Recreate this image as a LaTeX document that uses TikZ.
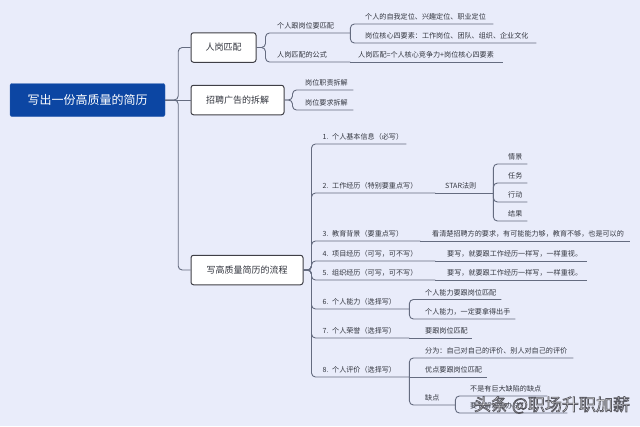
\documentclass[tikz,border=0pt]{standalone}
\usepackage{fontspec}
\setmainfont{Noto Sans CJK SC}
\definecolor{bg}{HTML}{E9ECFA}
\definecolor{ln}{HTML}{656C80}
\definecolor{bd}{HTML}{3F3F46}
\definecolor{rootc}{HTML}{0C46A3}
\definecolor{tx}{HTML}{33363F}
\tikzset{
  conn/.style={draw=ln, line width=0.9pt, rounded corners=4pt},
  rootbox/.style={fill=rootc, draw=rootc!85!white, rounded corners=2pt, text=white,
    font=\fontsize{12}{14}\selectfont, minimum width=155pt, minimum height=33pt, inner sep=0pt},
  topic/.style={fill=white, draw=bd, line width=1pt, rounded corners=2.5pt, text=tx,
    font=\fontsize{9}{11}\selectfont, minimum height=29.5pt, inner sep=0pt},
  leaf/.style 2 args={anchor=south west, inner xsep=0pt, inner ysep=2.5pt, align=left,
    text=tx, font=\fontsize{7.1}{8}\selectfont, text height=6pt, text depth=1.5pt,
    text width=#1, execute at begin node={\hspace*{#2}}},
  wmark/.style={text=white, font=\fontsize{17}{19}\selectfont, inner sep=0pt}
}
\begin{document}
\begin{tikzpicture}[x=1pt,y=-1pt]
\useasboundingbox[fill=bg] (0,0) rectangle (640,426);

% root and topics
\node[rootbox] (root) at (87.5,100) {写出一份高质量的简历};
\node[topic, minimum width=65pt] (t1) at (223.5,47.5) {人岗匹配};
\node[topic, minimum width=93pt] (t2) at (237.5,100) {招聘广告的拆解};
\node[topic, minimum width=112pt] (t3) at (247,270) {写高质量简历的流程};

% topic 1 children
\node[leaf={85pt}{12pt}] (a1) at (265,33) {个人跟岗位要匹配};
\node[leaf={85pt}{12pt}] (a2) at (265,62) {人岗匹配的公式};
\node[leaf={143pt}{15pt}] (a11) at (350,24) {个人的自我定位、兴趣定位、职业定位};
\node[leaf={186pt}{15pt}] (a12) at (350,43) {岗位核心四要素：工作岗位、团队、组织、企业文化};
\node[leaf={153pt}{8pt}] (a21) at (350,62) {人岗匹配=个人核心竞争力+岗位核心四要素};

% topic 2 children
\node[leaf={61pt}{13pt}] (b1) at (292,90) {岗位职责拆解};
\node[leaf={61pt}{13pt}] (b2) at (292,110) {岗位要求拆解};

% topic 3 children
\node[leaf={95pt}{11.5pt}] (c1) at (311,144) {1. 个人基本信息（必写）};
\node[leaf={124pt}{11.5pt}] (c2) at (311,193) {2. 工作经历（特别要重点写）};
\node[leaf={58pt}{10pt}] (star) at (435,193) {STAR法则};
\node[leaf={34pt}{15pt}] (s1) at (493,164) {情景};
\node[leaf={34pt}{15pt}] (s2) at (493,183) {任务};
\node[leaf={34pt}{15pt}] (s3) at (493,202) {行动};
\node[leaf={34pt}{15pt}] (s4) at (493,221) {结果};
\node[leaf={109pt}{11.5pt}] (c3) at (311,241) {3. 教育背景（要重点写）};
\node[leaf={210pt}{12pt}] (c31) at (420,241) {看清楚招聘方的要求，有可能能力够，教育不够，也是可以的};
\node[leaf={124pt}{11.5pt}] (c4) at (311,261) {4. 项目经历（可写，可不写）};
\node[leaf={152pt}{12pt}] (c41) at (435,261) {要写，就要跟工作经历一样写，一样重视。};
\node[leaf={124pt}{11.5pt}] (c5) at (311,280) {5. 组织经历（可写，可不写）};
\node[leaf={152pt}{12pt}] (c51) at (435,280) {要写，就要跟工作经历一样写，一样重视。};
\node[leaf={98pt}{11.5pt}] (c6) at (311,309) {6. 个人能力（选择写）};
\node[leaf={92pt}{16pt}] (c61) at (409,299.5) {个人能力要跟岗位匹配};
\node[leaf={106pt}{16pt}] (c62) at (409,319) {个人能力，一定要拿得出手};
\node[leaf={98pt}{11.5pt}] (c7) at (311,338) {7. 个人荣誉（选择写）};
\node[leaf={63pt}{16pt}] (c71) at (409,338) {要跟岗位匹配};
\node[leaf={98pt}{11.5pt}] (c8) at (311,377) {8. 个人评价（选择写）};
\node[leaf={164pt}{16pt}] (c81) at (409,358) {分为：自己对自己的评价、别人对自己的评价};
\node[leaf={78pt}{16pt}] (c82) at (409,377) {优点要跟岗位匹配};
\node[leaf={46pt}{16pt}] (c83) at (409,405) {缺点};
\node[leaf={92pt}{15pt}] (c831) at (455,396) {不是有巨大缺陷的缺点};
\node[leaf={112pt}{15pt}] (c832) at (455,413) {要有解决的办法};

% trunk connectors
\draw[conn] (root.east) -- ++(13,0) |- (t1.west);
\draw[conn] (root.east) -- (t2.west);
\draw[conn] (root.east) -- ++(13,0) |- (t3.west);

% topic 1
\draw[conn] (t1.east) -- ++(9,0) |- (a1.south east);
\draw[conn] (t1.east) -- ++(9,0) |- (a2.south east);
\draw[conn] (a1.south east) |- (a11.south east);
\draw[conn] (a1.south east) |- (a12.south east);
\draw[conn] (a2.south east) -- (a21.south east);

% topic 2
\draw[conn] (t2.east) -- ++(8,0) |- (b1.south east);
\draw[conn] (t2.east) -- ++(8,0) |- (b2.south east);

% topic 3
\foreach \c in {c1,c2,c3,c4,c5,c6,c7,c8}
  \draw[conn] (t3.east) -- ++(8,0) |- (\c.south east);
\draw[conn] (c2.south east) -- (star.south east);
\foreach \s in {s1,s2,s3,s4}
  \draw[conn] (star.south east) |- (\s.south east);
\draw[conn] (c3.south east) -- (c31.south east);
\draw[conn] (c4.south east) -- (c41.south east);
\draw[conn] (c5.south east) -- (c51.south east);
\draw[conn] (c6.south east) |- (c61.south east);
\draw[conn] (c6.south east) |- (c62.south east);
\draw[conn] (c7.south east) -- (c71.south east);
\draw[conn] (c8.south east) |- (c81.south east);
\draw[conn] (c8.south east) -- (c82.south east);
\draw[conn] (c8.south east) |- (c83.south east);
\draw[conn] (c83.south east) |- (c831.south east);
\draw[conn] (c83.south east) |- (c832.south east);

% watermark
\node[wmark] (wm) at (552,405) {\special{pdf:literal direct 0.35 0.35 0.38 RG 0.7 w 2 Tr}头条 @职场升职加薪\special{pdf:literal direct 0 Tr}};
\end{tikzpicture}
\end{document}
